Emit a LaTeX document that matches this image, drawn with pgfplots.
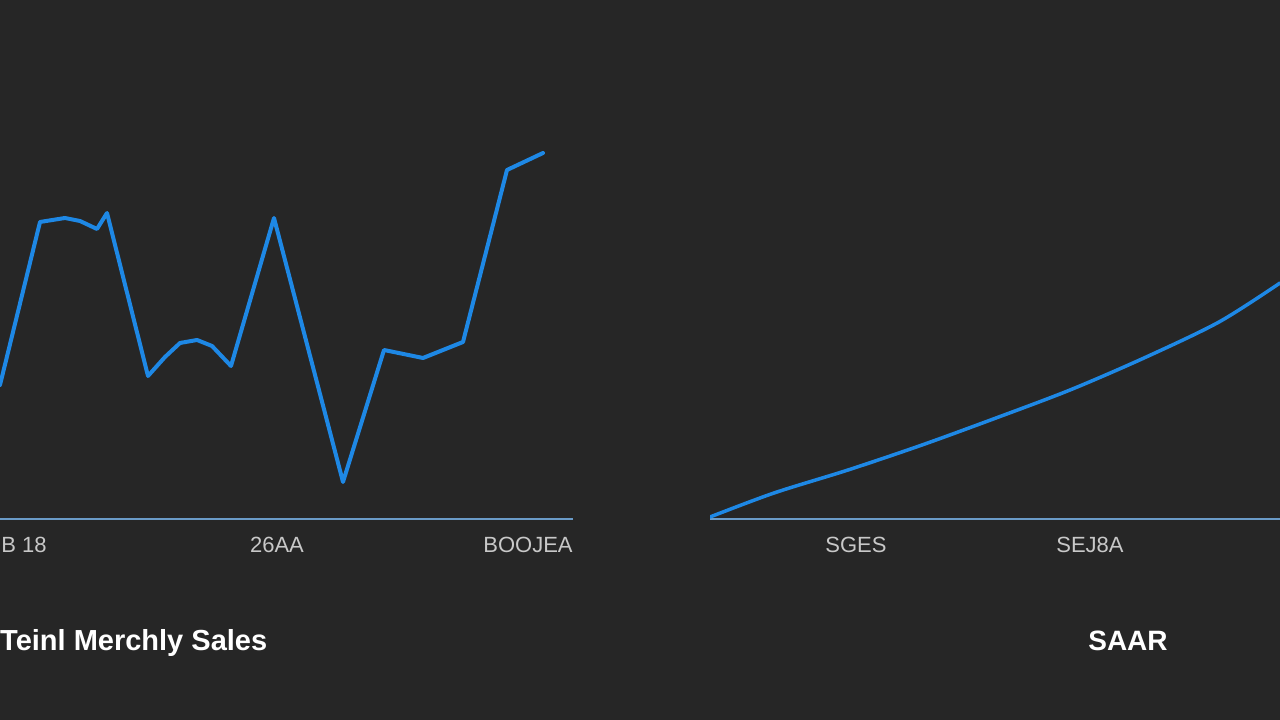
\documentclass[border=0pt]{standalone}
\usepackage{pgfplots}
\pgfplotsset{compat=1.18}
\usepackage{fontspec}
\setmainfont{Liberation Sans}
\definecolor{bg}{HTML}{262626}
\definecolor{ln}{HTML}{1E88E5}
\definecolor{base}{HTML}{6A9BC8}
\definecolor{tick}{HTML}{C8C8C8}
\begin{document}
\begin{tikzpicture}[x=1pt,y=1pt]
\fill[bg] (0,0) rectangle (1280,720);
\useasboundingbox (0,0) rectangle (1280,720);
\pgfplotsset{
  panel/.style={
    scale only axis, anchor=south west,
    axis x line*=bottom, hide y axis,
    axis line style={base, line width=2pt},
    major tick length=0pt,
    ymin=0,
    tick label style={font=\fontsize{22}{26}\selectfont, text=tick},
    xticklabel style={yshift=-15pt},
  }
}
\begin{axis}[panel, at={(0,201)}, width=573, height=419,
  xmin=0, xmax=573, ymax=419,
  xtick={24,277,528}, xticklabels={B 18, 26AA, BOOJEA}]
\addplot[ln, line width=4pt, line join=round, line cap=round] coordinates {
(0,134) (40,297) (65,301) (80,298) (97,290) (107,306) (148,143) (165,162)
(180,176) (197,179) (212,173) (231,153) (274,301) (343,37) (384,169)
(423,161) (463,177) (507,349) (543,366)};
\end{axis}
\begin{axis}[panel, at={(710,201)}, width=570, height=419,
  xmin=0, xmax=570, ymax=419,
  xtick={146,380}, xticklabels={SGES, SEJ8A}]
\addplot[ln, line width=3.5pt, smooth, line cap=round] coordinates {
(0,2) (64,26) (138,49) (212,74) (286,101) (360,129) (434,161) (509,197) (570,236)};
\end{axis}
\node[anchor=base west, inner sep=0, text=white, font=\bfseries\fontsize{29}{32}\selectfont] at (0,69) {Teinl Merchly Sales};
\node[anchor=base, inner sep=0, text=white, font=\bfseries\fontsize{28}{32}\selectfont] at (1128,69) {SAAR};
\end{tikzpicture}
\end{document}
